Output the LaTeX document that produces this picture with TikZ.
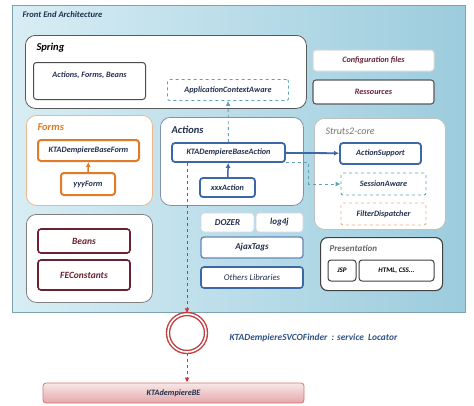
\documentclass[tikz,border=0pt]{standalone}
\usepackage{fontspec}
\setmainfont{Carlito}
\usetikzlibrary{positioning, backgrounds, arrows.meta}

\definecolor{panelA}{HTML}{D8EDF4}
\definecolor{panelB}{HTML}{9CCCDD}
\definecolor{txtblue}{HTML}{22304F}
\definecolor{frmorange}{HTML}{E07B2A}
\definecolor{actblue}{HTML}{3C68A6}
\definecolor{awteal}{HTML}{5FA3B3}
\definecolor{beanred}{HTML}{6A2233}
\definecolor{locred}{HTML}{C23C40}

\begin{document}
\begin{tikzpicture}[x=1pt, y=-1pt, font=\bfseries\itshape\fontsize{8.2}{9.8}\selectfont, text=txtblue,
		group/.style={draw=#1, fill=white, rounded corners=10pt, line width=0.8pt},
		item/.style={draw=#1, fill=white, rounded corners=3pt, line width=1.5pt},
		aware/.style={draw=#1, fill=white, dashed, rounded corners=2pt, line width=0.9pt},
		grouptitle/.style={anchor=north west, font=\bfseries\itshape\fontsize{10.5}{12}\selectfont, text=#1},
		link/.style={-{Latex[length=5pt,width=5pt]}, line width=1.5pt}]
		\useasboundingbox (0,0) rectangle (474,405);
		
		% panel
		\fill[left color=panelA, right color=panelB, draw=panelB!80!black, line width=0.4pt] (12,5) rectangle (465,312);
		\node[anchor=west, font=\bfseries\itshape\fontsize{8.6}{10}\selectfont] (title) at (19,15) {Front End Architecture};
		
		% Spring
		\node[group=black!65, anchor=north west, minimum width=281pt, minimum height=73pt,
			label={[grouptitle=black, xshift=8pt, yshift=-5pt]north west:Spring}] (spring) at (25,35) {};
		\node[item=black!70, line width=1pt, anchor=north west, minimum width=112pt, minimum height=37pt,
			label={[anchor=north, yshift=-6pt]north:Actions, Forms, Beans}] (afb) at (33,62) {};
		\node[aware=awteal, minimum width=121pt, minimum height=21pt] (appctx) at (228,90) {ApplicationContextAware};
		
		\node[item=black!15, line width=1pt, text=beanred, minimum width=121pt, minimum height=21pt] (conf) at (373.5,60.5) {Configuration files};
		\node[item=black!65, line width=1.1pt, text=beanred, minimum width=121pt, minimum height=24pt] (ress) at (373.5,92) {Ressources};
		
		% Forms
		\node[group=frmorange!55, anchor=north west, minimum width=126pt, minimum height=90pt,
			label={[grouptitle=frmorange, xshift=8pt, yshift=-5pt]north west:Forms}] (forms) at (26,115) {};
		\node[item=frmorange, line width=2pt, minimum width=101pt, minimum height=21pt] (baseform) at (88.5,150.5) {KTADempiereBaseForm};
		\node[item=frmorange, line width=2pt, minimum width=54pt, minimum height=22pt] (yyy) at (88,184) {yyyForm};
		
		% Actions
		\node[group=actblue!70!black!60, anchor=north west, minimum width=143pt, minimum height=88pt,
			label={[grouptitle=txtblue, xshift=8pt, yshift=-6pt]north west:Actions}] (actions) at (160,117) {};
		\node[item=actblue, line width=1.8pt, minimum width=113pt, minimum height=19pt] (baseaction) at (228.5,152.5) {KTADempiereBaseAction};
		\node[item=actblue, line width=1.8pt, minimum width=55pt, minimum height=19pt] (xxx) at (227.5,187.5) {xxxAction};
		
		% Struts2-core
		\node[group=black!25, anchor=north west, minimum width=131pt, minimum height=111pt,
			label={[grouptitle=black!55, font=\itshape\fontsize{10}{11}\selectfont, xshift=8pt, yshift=-6pt]north west:Struts2-core}] (struts) at (314,118) {};
		\node[item=actblue, line width=1.8pt, minimum width=81pt, minimum height=21pt] (support) at (380.5,153.5) {ActionSupport};
		\node[aware=awteal, minimum width=85pt, minimum height=22pt] (session) at (383.5,184) {SessionAware};
		\node[aware=frmorange!60, minimum width=85pt, minimum height=22pt] (filter) at (383.5,214) {FilterDispatcher};
		
		% Beans
		\node[group=black!50, anchor=north west, minimum width=126pt, minimum height=88pt] (beangrp) at (26,214) {};
		\node[item=beanred, line width=1.6pt, text=beanred, minimum width=92pt, minimum height=24pt, font=\bfseries\itshape\fontsize{9.5}{11}\selectfont] (beans) at (84,241) {Beans};
		\node[item=beanred, line width=1.6pt, text=beanred, minimum width=92pt, minimum height=30pt, font=\bfseries\itshape\fontsize{9.5}{11}\selectfont] (fecst) at (84,275) {FEConstants};
		
		% libraries
		\node[item=actblue!25, line width=0.9pt, minimum width=53pt, minimum height=19pt, font=\bfseries\itshape\fontsize{9}{11}\selectfont] (dozer) at (227.5,222.5) {DOZER};
		\node[item=actblue!25, line width=0.9pt, minimum width=47pt, minimum height=19pt, font=\bfseries\itshape\fontsize{9}{11}\selectfont] (log) at (279.5,222.5) {log4j};
		\node[item=actblue!80, line width=1.3pt, minimum width=102pt, minimum height=21pt, font=\bfseries\itshape\fontsize{9}{11}\selectfont] (ajax) at (252,247.5) {AjaxTags};
		\node[item=actblue, line width=1.6pt, minimum width=102pt, minimum height=21pt, font=\itshape\fontsize{8.8}{10}\selectfont] (others) at (252,277.5) {Others Libraries};
		
		% Presentation
		\node[group=black!75, line width=1.1pt, rounded corners=7pt, anchor=north west, minimum width=122pt, minimum height=53pt,
			label={[grouptitle=black!60, font=\bfseries\itshape\fontsize{9}{10}\selectfont, xshift=6pt, yshift=-5pt]north west:Presentation}] (present) at (320,237) {};
		\node[item=black!75, line width=1pt, minimum width=28pt, minimum height=21pt, font=\bfseries\itshape\fontsize{7}{8}\selectfont, text=black] (jsp) at (342,270.5) {JSP};
		\node[item=black!75, line width=1pt, minimum width=75pt, minimum height=21pt, font=\bfseries\itshape\fontsize{7}{8}\selectfont, text=black] (html) at (396.5,270.5) {HTML, CSS...};
		
		% service locator and back end
		\node[circle, draw=locred, fill=white, line width=1.4pt, double=white, double distance=1.6pt, minimum size=38pt] (loc) at (187,333) {};
		\node[anchor=west, text=actblue!80!black, font=\bfseries\itshape\fontsize{9.4}{11}\selectfont] (loclabel) at (226,338) {KTADempiereSVCOFinder\ \ : service\ \ Locator};
		\node[draw=locred!70, line width=0.8pt, top color=locred!12, bottom color=locred!45, rounded corners=3pt, minimum width=261pt, minimum height=20pt] (be) at (173.5,393) {KTAdempiereBE};
		
		% connectors
		\draw[link, frmorange] (yyy) -- (baseform);
		\draw[link, actblue] (xxx) -- (baseaction);
		\draw[link, actblue, line width=1.8pt] (baseaction) -- (support);
		\draw[link, awteal, dashed, line width=0.9pt] (baseaction) -- (appctx);
		\draw[link, awteal, dashed, line width=0.9pt] (baseaction.south east) -- ++(23,0) |- (session);
		\draw[link, locred, dashed, line width=0.9pt] (loc.north |- baseaction.south) -- (loc.north);
		\draw[link, locred, dashed, line width=0.9pt] (loc.south) -- (loc.south |- be.north);
	\end{tikzpicture}
\end{document}
